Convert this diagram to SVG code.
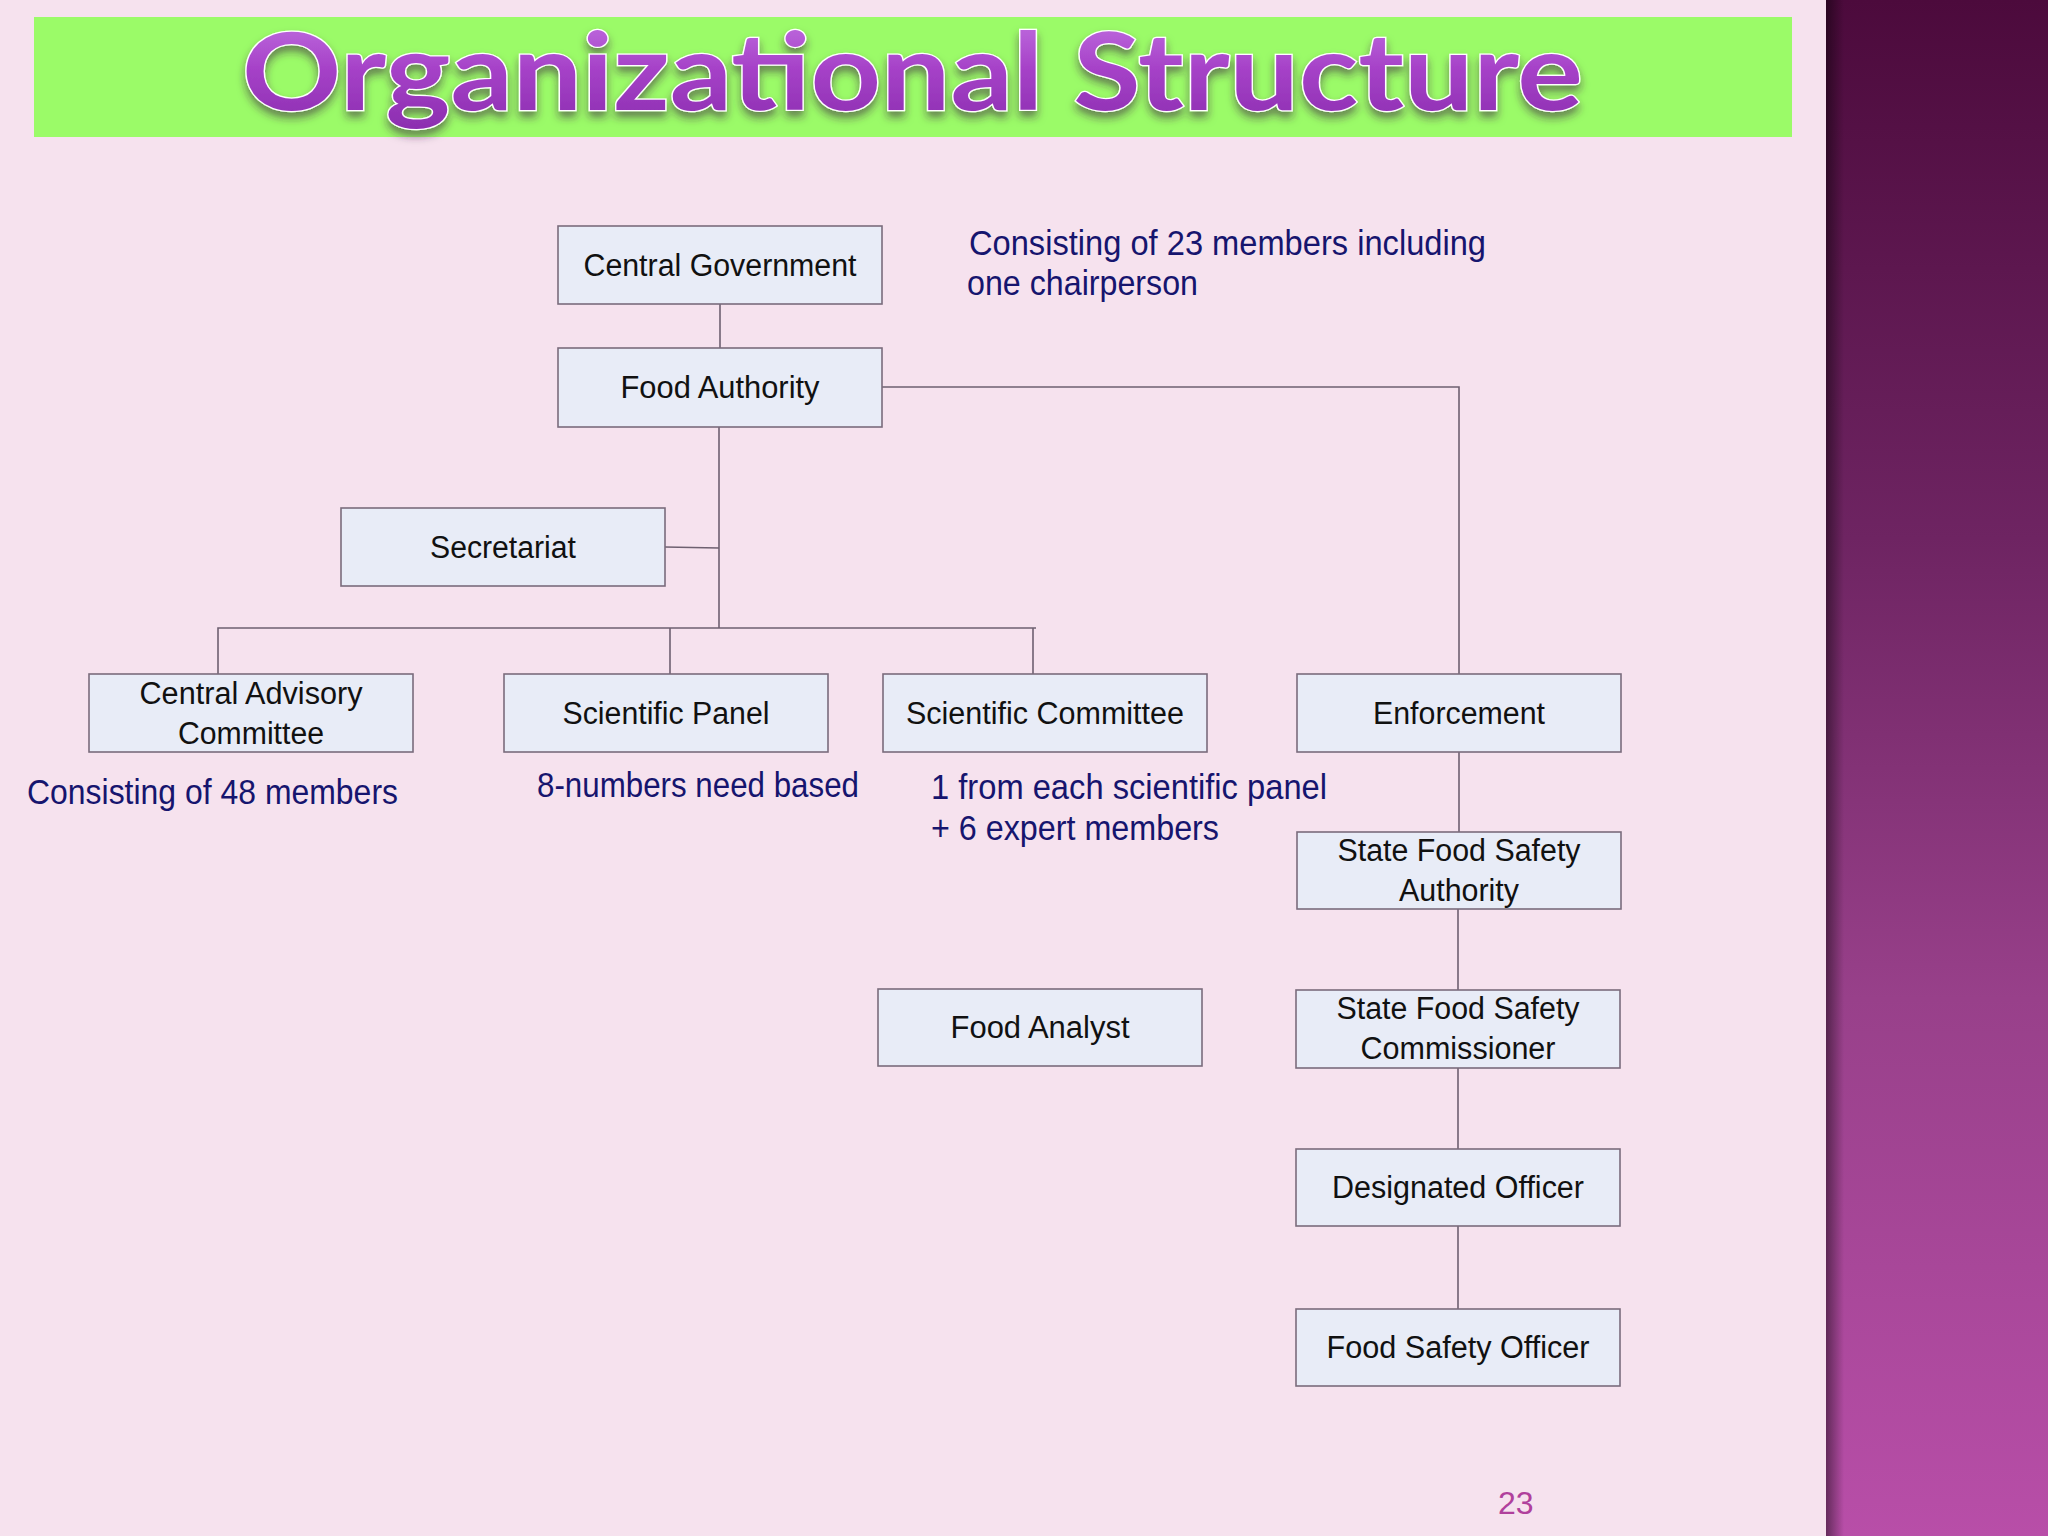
<svg xmlns="http://www.w3.org/2000/svg" width="2048" height="1536" viewBox="0 0 2048 1536">
<defs>
<linearGradient id="panel" x1="0" y1="0" x2="0" y2="1">
<stop offset="0" stop-color="#4c0a3c"/>
<stop offset="0.35" stop-color="#6e2462"/>
<stop offset="0.65" stop-color="#98408a"/>
<stop offset="1" stop-color="#b84ea8"/>
</linearGradient>
<linearGradient id="edge" x1="0" y1="0" x2="1" y2="0">
<stop offset="0" stop-color="#000" stop-opacity="0.45"/>
<stop offset="1" stop-color="#000" stop-opacity="0"/>
</linearGradient>
<linearGradient id="titleFill" x1="0" y1="0" x2="0" y2="1">
<stop offset="0" stop-color="#c77ae6"/>
<stop offset="0.5" stop-color="#a642c8"/>
<stop offset="1" stop-color="#8a2cae"/>
</linearGradient>
<filter id="shadow" x="-5%" y="-20%" width="110%" height="160%">
<feDropShadow dx="0" dy="6" stdDeviation="4" flood-color="#3a2040" flood-opacity="0.55"/>
</filter>
<style>
.box{fill:#e8ecf7;stroke:#7a6c7c;stroke-width:1.6}
.lbl{font-family:"Liberation Sans",Arial,sans-serif;font-size:31px;fill:#111;text-anchor:middle}
.note{font-family:"Liberation Sans Narrow","Liberation Sans",Arial,sans-serif;font-size:35px;fill:#16156e}
.conn{fill:none;stroke:#6e6070;stroke-width:1.6}
</style>
</defs>
<rect x="0" y="0" width="2048" height="1536" fill="#f6e2ee"/>
<rect x="1826" y="0" width="222" height="1536" fill="url(#panel)"/>
<rect x="1826" y="0" width="18" height="1536" fill="url(#edge)"/>
<rect x="34" y="17" width="1758" height="120" fill="#9bfb68"/>
<text x="242" y="110" textLength="1341" lengthAdjust="spacingAndGlyphs" font-family="Lato,'Open Sans',sans-serif" font-weight="bold" font-size="108" fill="url(#titleFill)" stroke="#ffffff" stroke-width="2.5" paint-order="stroke" filter="url(#shadow)">Organizational Structure</text>

<g id="connectors">
<path class="conn" d="M720 304 V348"/>
<path class="conn" d="M719 427 V628"/>
<path class="conn" d="M665 547 L719 548"/>
<path class="conn" d="M218 674 V628 H1036"/>
<path class="conn" d="M670 628 V674"/>
<path class="conn" d="M1033 628 V674"/>
<path class="conn" d="M882 387 H1459 V674"/>
<path class="conn" d="M1459 752 V832"/>
<path class="conn" d="M1458 909 V990"/>
<path class="conn" d="M1458 1068 V1149"/>
<path class="conn" d="M1458 1226 V1309"/>
</g>

<g id="central-government"><rect class="box" x="558" y="226" width="324" height="78"/><text class="lbl" x="720" y="276" textLength="273" lengthAdjust="spacingAndGlyphs">Central Government</text></g>
<g id="food-authority"><rect class="box" x="558" y="348" width="324" height="79"/><text class="lbl" x="720" y="398" textLength="199" lengthAdjust="spacingAndGlyphs">Food Authority</text></g>
<g id="secretariat"><rect class="box" x="341" y="508" width="324" height="78"/><text class="lbl" x="503" y="558" textLength="146" lengthAdjust="spacingAndGlyphs">Secretariat</text></g>
<g id="central-advisory-committee"><rect class="box" x="89" y="674" width="324" height="78"/><text class="lbl" x="251" y="704" textLength="223" lengthAdjust="spacingAndGlyphs">Central Advisory</text><text class="lbl" x="251" y="744" textLength="146" lengthAdjust="spacingAndGlyphs">Committee</text></g>
<g id="scientific-panel"><rect class="box" x="504" y="674" width="324" height="78"/><text class="lbl" x="666" y="724" textLength="207" lengthAdjust="spacingAndGlyphs">Scientific Panel</text></g>
<g id="scientific-committee"><rect class="box" x="883" y="674" width="324" height="78"/><text class="lbl" x="1045" y="724" textLength="278" lengthAdjust="spacingAndGlyphs">Scientific Committee</text></g>
<g id="enforcement"><rect class="box" x="1297" y="674" width="324" height="78"/><text class="lbl" x="1459" y="724" textLength="172" lengthAdjust="spacingAndGlyphs">Enforcement</text></g>
<g id="state-food-safety-authority"><rect class="box" x="1297" y="832" width="324" height="77"/><text class="lbl" x="1459" y="861" textLength="243" lengthAdjust="spacingAndGlyphs">State Food Safety</text><text class="lbl" x="1459" y="901" textLength="120" lengthAdjust="spacingAndGlyphs">Authority</text></g>
<g id="food-analyst"><rect class="box" x="878" y="989" width="324" height="77"/><text class="lbl" x="1040" y="1038" textLength="179" lengthAdjust="spacingAndGlyphs">Food Analyst</text></g>
<g id="state-food-safety-commissioner"><rect class="box" x="1296" y="990" width="324" height="78"/><text class="lbl" x="1458" y="1019" textLength="243" lengthAdjust="spacingAndGlyphs">State Food Safety</text><text class="lbl" x="1458" y="1059" textLength="195" lengthAdjust="spacingAndGlyphs">Commissioner</text></g>
<g id="designated-officer"><rect class="box" x="1296" y="1149" width="324" height="77"/><text class="lbl" x="1458" y="1198" textLength="252" lengthAdjust="spacingAndGlyphs">Designated Officer</text></g>
<g id="food-safety-officer"><rect class="box" x="1296" y="1309" width="324" height="77"/><text class="lbl" x="1458" y="1358" textLength="263" lengthAdjust="spacingAndGlyphs">Food Safety Officer</text></g>

<g id="notes">
<text class="note" x="969" y="255" textLength="517" lengthAdjust="spacingAndGlyphs">Consisting of 23 members including</text>
<text class="note" x="967" y="295" textLength="231" lengthAdjust="spacingAndGlyphs">one chairperson</text>
<text class="note" x="27" y="804" textLength="371" lengthAdjust="spacingAndGlyphs">Consisting of 48 members</text>
<text class="note" x="537" y="797" textLength="322" lengthAdjust="spacingAndGlyphs">8-numbers need based</text>
<text class="note" x="931" y="799" textLength="396" lengthAdjust="spacingAndGlyphs">1 from each scientific panel</text>
<text class="note" x="931" y="840" textLength="288" lengthAdjust="spacingAndGlyphs">+ 6 expert members</text>
</g>
<text x="1498" y="1514" font-family="Liberation Sans,Arial,sans-serif" font-size="32" fill="#b0409c">23</text>
</svg>
